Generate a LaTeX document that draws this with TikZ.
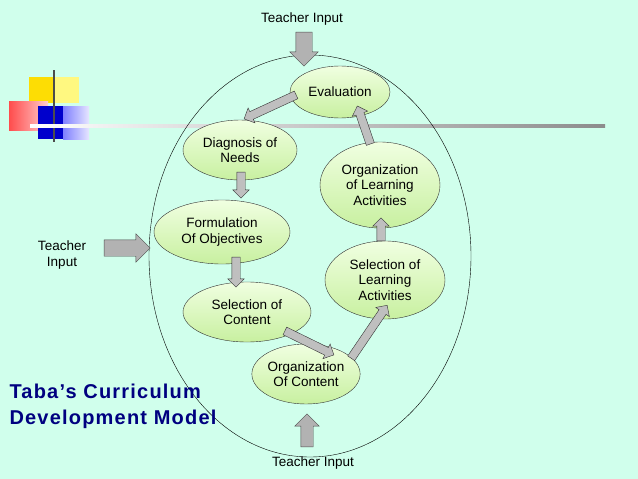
\documentclass[tikz,border=0pt]{standalone}
\usepackage{fontspec}
\setmainfont{Liberation Sans}
\usetikzlibrary{shapes.arrows,shapes.geometric,calc}
\definecolor{bg}{RGB}{208,255,236}
\definecolor{elA}{RGB}{240,255,225}
\definecolor{elB}{RGB}{200,240,160}
\definecolor{navy}{RGB}{0,0,128}
\tikzset{
  stage/.style={ellipse, draw=black!80, thin, top color=elA, bottom color=elB, align=center, font=\fontsize{13.5}{15.5}\selectfont, inner sep=0pt},
  blockarrow/.style={single arrow, draw=black!80, fill=black!25, single arrow head extend=4pt, inner sep=0pt, single arrow tip angle=90},
  bigarrow/.style={single arrow, draw=black!70, fill=black!30, single arrow head extend=6pt, inner sep=0pt, single arrow tip angle=90},
  lbl/.style={font=\fontsize{13.5}{16}\selectfont, align=center}
}
\newcommand{\barrow}[4][blockarrow]{%
  \path let \p1=($(#4)-(#3)$), \n1={veclen(\x1,\y1)}, \n2={atan2(\y1,\x1)} in
    node[#1, minimum height=\n1, rotate=\n2] at ($(#3)!0.5!(#4)$) {\rule{0pt}{#2}};}
\begin{document}
\begin{tikzpicture}[x=1pt,y=-1pt]
\useasboundingbox (0,0) rectangle (638,479);
\fill[bg] (0,0) rectangle (638,479);
% decoration
\fill[yellow!80!orange] (29,77) rectangle (55,103);
\fill[yellow!50] (55,77) rectangle (79,103);
\shade[left color=red!70, right color=red!20] (9,101) rectangle (48,130);
\fill[blue!80!black] (38,106) rectangle (63,139);
\shade[left color=blue!50, right color=blue!10] (63,106) rectangle (89,139);
\draw[black!70, line width=1.2pt] (54,70) -- (54,142);
\shade[left color=white, right color=black!45] (30,124) rectangle (605,127);
% big ellipse
\node[ellipse, draw=black, minimum width=322pt, minimum height=402pt] (outer) at (310,256) {};
% stages
\node[stage, minimum width=100pt, minimum height=52pt] (ev) at (340,92) {Evaluation};
\node[stage, minimum width=114pt, minimum height=60pt] (dn) at (240,150) {Diagnosis of\\Needs};
\node[stage, minimum width=136pt, minimum height=64pt] (fo) at (222,232) {Formulation\\Of Objectives};
\node[stage, minimum width=128pt, minimum height=60pt] (sc) at (247,312) {Selection of\\Content};
\node[stage, minimum width=104pt, minimum height=60pt] (oc) at (306,374) {Organization\\Of Content};
\node[stage, minimum width=120pt, minimum height=78pt] (sl) at (385,280) {Selection of\\Learning\\Activities};
\node[stage, minimum width=120pt, minimum height=86pt] (ol) at (380,185) {Organization\\of Learning\\Activities};
% connector end points
\coordinate (a1) at (298,94); \coordinate (b1) at (246,118);
\coordinate (a2) at (241,170); \coordinate (b2) at (241,196);
\coordinate (a3) at (236,255); \coordinate (b3) at (236,285);
\coordinate (a4) at (283,330); \coordinate (b4) at (332,354);
\coordinate (a5) at (350,360); \coordinate (b5) at (386,307);
\coordinate (a6) at (381,243); \coordinate (b6) at (381,220);
\coordinate (a7) at (371,146); \coordinate (b7) at (358,108);
\barrow{8pt}{a1}{b1}\barrow{8pt}{a2}{b2}\barrow{8pt}{a3}{b3}\barrow{8pt}{a4}{b4}
\barrow{8pt}{a5}{b5}\barrow{8pt}{a6}{b6}\barrow{8pt}{a7}{b7}
% teacher inputs
\node[lbl] (tt) at (302,19) {Teacher Input};
\node[lbl] (tl) at (62,255) {Teacher\\Input};
\node[lbl] (tb) at (313,463) {Teacher Input};
\coordinate (t1) at (304,28); \coordinate (t2) at (304,62);
\coordinate (l1) at (100,248); \coordinate (l2) at (146,248);
\coordinate (u1) at (307,450); \coordinate (u2) at (307,417);
\barrow[bigarrow]{16pt}{t1}{t2}\barrow[bigarrow]{16pt}{l1}{l2}\barrow[bigarrow]{12pt}{u1}{u2}
% title
\node[anchor=west, align=left, text=navy, font=\bfseries\fontsize{20}{26}\selectfont] (title) at (6,406)
  {\addfontfeatures{LetterSpace=6}Taba’s Curriculum\\\addfontfeatures{LetterSpace=6}Development Model};
\end{tikzpicture}
\end{document}
